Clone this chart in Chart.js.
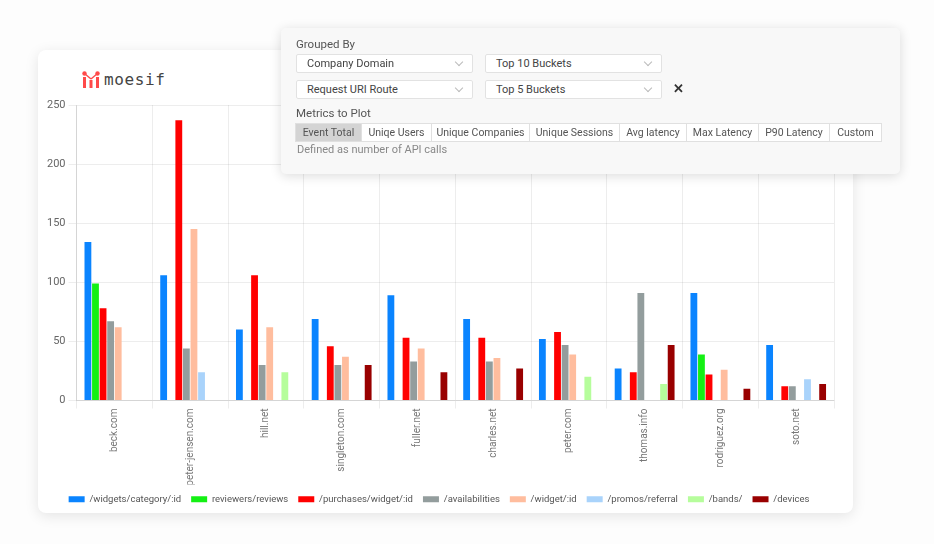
<!DOCTYPE html>
<html lang="en">
<head>
  <meta charset="UTF-8" />
  <title>moesif | Event Total by Company Domain</title>
  <script src="https://cdn.jsdelivr.net/npm/chart.js"></script>
  <style>
    body { margin: 0; width: 934px; height: 544px; background: #fdfdfd; font-family: Roboto, sans-serif; position: relative; overflow: hidden; }
    .card { position: absolute; left: 38px; top: 50px; width: 815px; height: 463px; background: #fff; border-radius: 8px; box-shadow: 0 3px 14px rgba(0,0,0,0.10); }
    .logo { position: absolute; left: 82px; top: 70px; display: flex; align-items: center; }
    .logo span { font-family: "DejaVu Sans Mono", monospace; font-size: 16px; color: #444; margin-left: 4px; letter-spacing: 0.6px; }
    .chart-box { position: absolute; left: 40px; top: 92px; width: 810px; height: 422px; }
    .panel { position: absolute; left: 281px; top: 28px; width: 619px; height: 146px; background: #f8f8f8; border-radius: 5px; box-shadow: 0 2px 12px rgba(0,0,0,0.14); color: #555; }
    .lbl { position: absolute; left: 15px; font-size: 11.5px; color: #555; }
    .sel { position: absolute; height: 17px; background: #fff; border: 1px solid #e2e2e2; border-radius: 2px; font-size: 11px; color: #444; line-height: 17px; padding-left: 10px; box-sizing: content-box; }
    .sel i { position: absolute; right: 10px; top: 4px; width: 5px; height: 5px; border-right: 1px solid #bbb; border-bottom: 1px solid #bbb; transform: rotate(45deg); }
    .x { position: absolute; left: 392px; top: 53px; font-size: 13px; font-weight: bold; color: #333; }
    .tabs { position: absolute; left: 14px; top: 95px; display: flex; border: 1px solid #e0e0e0; background: #fff; }
    .tabs div { height: 17px; line-height: 17px; font-size: 10.5px; color: #555; text-align: center; border-left: 1px solid #e0e0e0; box-sizing: border-box; }
    .tabs div:first-child { border-left: none; background: #d4d4d4; }
    .note { position: absolute; left: 16px; top: 115px; font-size: 11px; color: #888; }
  </style>
</head>
<body>

  <div class="card"></div>

  <!-- LOGO -->
  <div class="logo">
    <svg width="18" height="17" viewBox="0 0 18 17">
      <g fill="#ff4a4a" stroke="#ff4a4a">
        <rect x="1" y="6" width="3" height="11" stroke="none"/>
        <rect x="7.5" y="9" width="3" height="8" stroke="none"/>
        <rect x="14" y="6" width="3" height="11" stroke="none"/>
        <line x1="2.5" y1="2.5" x2="9" y2="8" stroke-width="1.4"/>
        <line x1="15.5" y1="2.5" x2="9" y2="8" stroke-width="1.4"/>
        <circle cx="2.5" cy="2.5" r="2.2" stroke="none"/>
        <circle cx="15.5" cy="2.5" r="2.2" stroke="none"/>
      </g>
    </svg>
    <span>moesif</span>
  </div>

  <div class="chart-box"><canvas id="bars"></canvas></div>

  <!-- GROUP BY PANEL -->
  <div class="panel">
    <div class="lbl" style="top:9px">Grouped By</div>
    <div class="sel" style="left:15px;top:26px;width:165px">Company Domain<i></i></div>
    <div class="sel" style="left:204px;top:26px;width:165px">Top 10 Buckets<i></i></div>
    <div class="sel" style="left:15px;top:52px;width:165px">Request URI Route<i></i></div>
    <div class="sel" style="left:204px;top:52px;width:165px">Top 5 Buckets<i></i></div>
    <div class="x">&#x2715;</div>
    <div class="lbl" style="top:78px">Metrics to Plot</div>
    <div class="tabs">
      <div style="width:65px">Event Total</div>
      <div style="width:70px">Uniqe Users</div>
      <div style="width:98px">Unique Companies</div>
      <div style="width:90px">Unique Sessions</div>
      <div style="width:67px">Avg latency</div>
      <div style="width:72px">Max Latency</div>
      <div style="width:71px">P90 Latency</div>
      <div style="width:52px">Custom</div>
    </div>
    <div class="note">Defined as number of API calls</div>
  </div>

  <script>
    const domains = ["beck.com", "peter-jensen.com", "hill.net", "singleton.com", "fuller.net",
                     "charles.net", "peter.com", "thomas.info", "rodriguez.org", "soto.net"];
    const routes = ["/widgets/category/:id", "reviewers/reviews", "/purchases/widget/:id", "/availabilities",
                    "/widget/:id", "/promos/referral", "/bands/", "/devices"];

    const widgetsCategory = [134, 106, 60, 69, 89, 69, 52, 27, 91, 47];
    const reviewers       = [99, null, null, null, null, null, null, null, 39, null];
    const purchases       = [78, 237, 106, 46, 53, 53, 58, 24, 22, 12];
    const availabilities  = [67, 44, 30, 30, 33, 33, 47, 91, null, 12];
    const widgetId        = [62, 145, 62, 37, 44, 36, 39, null, 26, null];
    const promos          = [null, 24, null, null, null, null, null, null, null, 18];
    const bands           = [null, null, 24, null, null, null, 20, 14, null, null];
    const devices         = [null, null, null, 30, 24, 27, null, 47, 10, 14];

    const yTicks = [0, 50, 100, 150, 200, 250];

    const seriesValues = [widgetsCategory, reviewers, purchases, availabilities, widgetId, promos, bands, devices];
    const colors = ["#0a84ff", "#14f014", "#ff0000", "#939d9d", "#ffbd9e", "#a9d3fb", "#b6fd9c", "#990000"];

    new Chart(document.getElementById("bars"), {
      type: "bar",
      data: {
        labels: domains,
        datasets: routes.map((r, i) => ({
          label: r,
          data: seriesValues[i],
          backgroundColor: colors[i],
          borderWidth: 0
        }))
      },
      options: {
        responsive: true,
        maintainAspectRatio: false,
        animation: false,
        layout: { padding: { top: 13, right: 16, left: 4, bottom: 0 } },
        plugins: {
          tooltip: { enabled: false },
          legend: {
            position: "bottom",
            labels: {
              boxWidth: 16, boxHeight: 6, padding: 10,
              color: "#555", font: { family: "Roboto", size: 9.5 }
            }
          }
        },
        scales: {
          x: {
            afterFit: axis => { axis.height = 84; },
            grid: { color: "rgba(0,0,0,0.07)" },
            ticks: { minRotation: 90, maxRotation: 90, padding: 0, color: "#777", font: { family: "Roboto", size: 10 } }
          },
          y: {
            min: 0, max: 250,
            afterBuildTicks: axis => { axis.ticks = yTicks.map(v => ({ value: v })); },
            grid: { color: "rgba(0,0,0,0.07)" },
            ticks: { color: "#666", font: { family: "Roboto", size: 11 } }
          }
        }
      }
    });
  </script>

</body>
</html>
